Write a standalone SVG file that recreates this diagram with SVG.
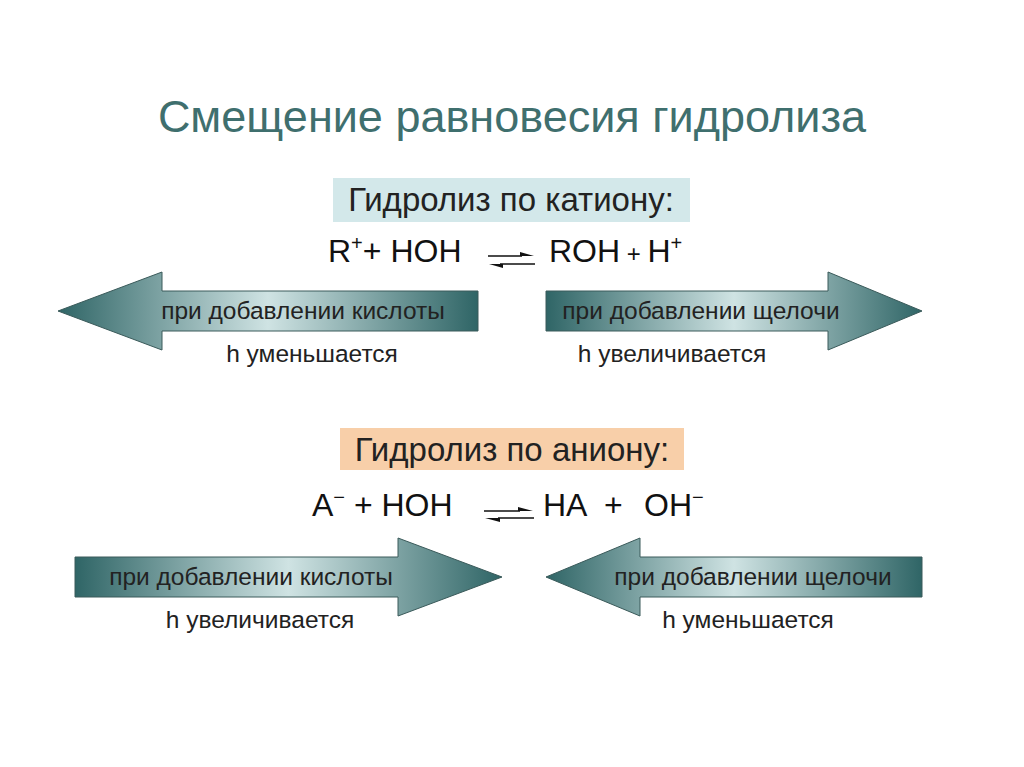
<svg xmlns="http://www.w3.org/2000/svg" width="1024" height="767" viewBox="0 0 1024 767">
<defs>
<linearGradient id="g" x1="0" y1="0" x2="1" y2="0">
<stop offset="0" stop-color="#2f6566"/><stop offset="0.5" stop-color="#cfe3e3"/><stop offset="1" stop-color="#2f6566"/>
</linearGradient>
<style>
text{font-family:"Liberation Sans",Arial,sans-serif;fill:#111}
.t{font-size:45px;fill:#3f6f6e}
.h{font-size:33px;fill:#222}
.eq{font-size:32px}
.a{font-size:24.5px;fill:#222}
.s{font-size:24.5px;fill:#222}
.arr{fill:url(#g);stroke:#3a5a5a;stroke-width:1}
.ln{stroke:#111;stroke-width:1.5;fill:none}
.hd{fill:#111}
</style>
</defs>
<rect width="1024" height="767" fill="#fff"/>
<text class="t" x="512" y="132" text-anchor="middle">Смещение равновесия гидролиза</text>
<g id="cation">
<rect x="333" y="178" width="357" height="44" fill="#d3e8ea"/>
<text class="h" x="511" y="211" text-anchor="middle">Гидролиз по катиону:</text>
<text class="eq" x="328" y="262">R<tspan font-size="20" dy="-12">+</tspan><tspan dy="12">+ HOH</tspan></text>
<text class="eq" x="549" y="262">ROH<tspan font-size="24"> + </tspan>H<tspan font-size="20" dy="-12">+</tspan></text>
</g>
<g id="anion">
<rect x="340" y="428" width="344" height="42" fill="#f8cfa9"/>
<text class="h" x="512" y="461" text-anchor="middle">Гидролиз по аниону:</text>
<text class="eq" x="312" y="516">A<tspan font-size="20" dy="-12">−</tspan><tspan dy="12"> + HOH</tspan></text>
<text class="eq" x="543" y="516">HA</text>
<text class="eq" x="604" y="516">+</text>
<text class="eq" x="644" y="516">OH<tspan font-size="20" dy="-12">−</tspan></text>
</g>
<g id="connectors">
<path class="ln" d="M488 256 H522 M500 264 H535"/>
<path class="hd" d="M534 256 L520 252 V256 Z M489 264 L503 268 V264 Z"/>
<path class="ln" d="M484 511 H520 M498 518 H534"/>
<path class="hd" d="M533 511 L518 507 V511 Z M485 518 L500 522 V518 Z"/>
</g>
<g id="arrow1">
<path class="arr" d="M58 311 L162 272 V291 H478 V331 H162 V350 Z"/>
<text class="a" x="303" y="319" text-anchor="middle">при добавлении кислоты</text>
<text class="s" x="312" y="362" text-anchor="middle">h уменьшается</text>
</g>
<g id="arrow2">
<path class="arr" d="M922 311 L828 272 V291 H546 V331 H828 V350 Z"/>
<text class="a" x="701" y="319" text-anchor="middle">при добавлении щелочи</text>
<text class="s" x="672" y="362" text-anchor="middle">h увеличивается</text>
</g>
<g id="arrow3">
<path class="arr" d="M502 577 L398 538 V557 H75 V597 H398 V616 Z"/>
<text class="a" x="251" y="585" text-anchor="middle">при добавлении кислоты</text>
<text class="s" x="260" y="628" text-anchor="middle">h увеличивается</text>
</g>
<g id="arrow4">
<path class="arr" d="M546 577 L640 538 V557 H922 V597 H640 V616 Z"/>
<text class="a" x="753" y="585" text-anchor="middle">при добавлении щелочи</text>
<text class="s" x="748" y="628" text-anchor="middle">h уменьшается</text>
</g>
</svg>
